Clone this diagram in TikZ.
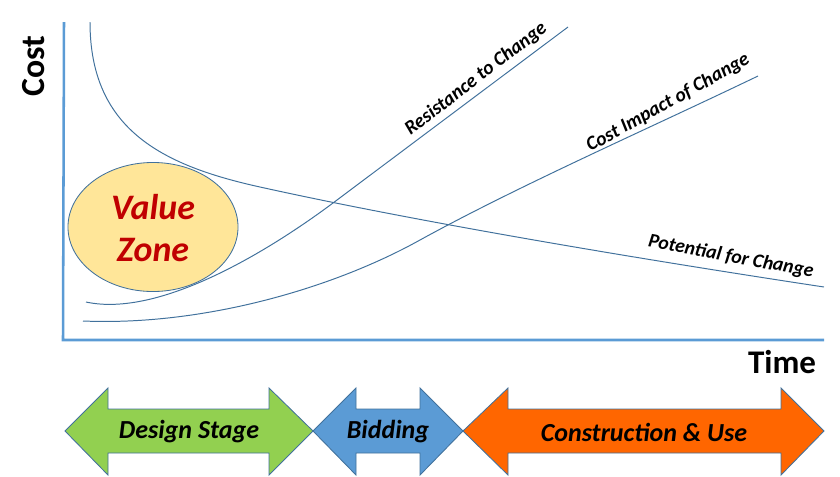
\documentclass[tikz,border=0pt]{standalone}
\usepackage{fontspec}
\setmainfont{Carlito}
\usetikzlibrary{shapes.geometric}
\definecolor{axisblue}{HTML}{5B9BD5}
\definecolor{lineblue}{HTML}{41719C}
\definecolor{zonefill}{HTML}{FFE699}
\definecolor{zonered}{HTML}{C00000}
\definecolor{designgreen}{HTML}{92D050}
\definecolor{bidblue}{HTML}{5B9BD5}
\definecolor{buildorange}{HTML}{FF6600}
\tikzset{
  axis/.style={axisblue, line width=1.8pt},
  curve/.style={lineblue, line width=0.7pt},
  curvelabel/.style={font=\fontsize{14}{16}\selectfont\bfseries\itshape, inner sep=1pt},
  stagearrow/.style={draw=lineblue, line width=0.6pt},
  stagelabel/.style={font=\fontsize{18.5}{20}\selectfont\bfseries\itshape}
}
\begin{document}
\begin{tikzpicture}[x=0.025cm, y=-0.025cm]
\useasboundingbox (0,0) rectangle (840,476);
% axes
\coordinate (O) at (63,340);
\draw[axis] (64,22) -- (O) -- (824,340);
\node[font=\fontsize{24}{26}\selectfont\bfseries, rotate=90] (cost) at (34,66) {Cost};
\node[font=\fontsize{23.5}{26}\selectfont\bfseries] (time) at (782,362) {Time};
% value zone
\node[ellipse, draw=lineblue, fill=zonefill, line width=0.6pt, minimum width=4.25cm, minimum height=3.225cm] (zone) at (153,227) {};
\node[font=\fontsize{25.5}{28}\selectfont\bfseries\itshape, text=zonered, align=center] (zonetext) at (153,228) {Value\\[2pt]Zone};
% curves
\draw[curve] (90,22) .. controls (90,128) and (160,165) .. (260,187)
  .. controls (400,218) and (600,253) .. (824,287);
\draw[curve] (86,302) .. controls (160,318) and (270,250) .. (333,203) -- (568,27);
\draw[curve] (83,321) .. controls (200,326) and (330,290) .. (420,240)
  .. controls (520,185) and (650,128) .. (758,76);
\node[curvelabel, rotate=37.5] (resist) at (476,79) {Resistance to Change};
\node[curvelabel, rotate=29] (impact) at (668,103) {Cost Impact of Change};
\node[curvelabel, rotate=-10.5] (potential) at (731,257) {Potential for Change};
% project stages
\fill[stagearrow, fill=designgreen] (65,431) -- (108,388) -- (108,409) -- (269,409) -- (269,388) -- (313,431) -- (269,475) -- (269,453) -- (108,453) -- (108,475) -- cycle;
\fill[stagearrow, fill=bidblue] (313,431) -- (356,388) -- (356,409) -- (420,409) -- (420,388) -- (463,431) -- (420,475) -- (420,453) -- (356,453) -- (356,475) -- cycle;
\fill[stagearrow, fill=buildorange] (463,431) -- (508,388) -- (508,409) -- (781,409) -- (781,388) -- (824,431) -- (781,475) -- (781,453) -- (508,453) -- (508,475) -- cycle;
\node[stagelabel] (design) at (189,432) {Design Stage};
\node[stagelabel] (bidding) at (388,432) {Bidding};
\node[stagelabel] (build) at (644,432) {Construction \& Use};
\end{tikzpicture}
\end{document}
